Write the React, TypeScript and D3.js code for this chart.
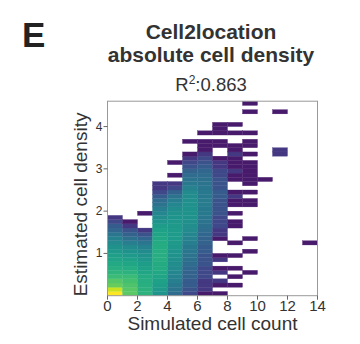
import React from 'react';
import * as d3 from 'd3';

// ---- data ----
const xTicks = [0, 2, 4, 6, 8, 10, 12, 14];
const yTicks = [1, 2, 3, 4];
const xDomain = [0, 14];
const yDomain = [0, 4.6];
const binHeight = 0.1;

// counts per 0.1-wide density bin (from 0 upward) for each simulated-count column
const col0 = [1000, 550, 180, 140, 95, 75, 62, 52, 44, 38, 32, 26, 20, 15, 11, 7, 5, 3, 2];
const col1 = [150, 140, 125, 110, 90, 70, 58, 48, 40, 33, 26, 20, 14, 9, 6, 4, 2, 1];
const col2 = [70, 68, 64, 60, 55, 48, 42, 36, 30, 26, 21, 16, 11, 7, 4, 2, 0, 0, 0, 1];
const col3 = [28, 32, 36, 40, 45, 50, 55, 55, 60, 60, 60, 58, 55, 50, 45, 40, 35, 28, 22, 18, 14, 10, 8, 5, 3, 2, 2];
const col4 = [8, 10, 12, 14, 16, 18, 20, 22, 24, 26, 28, 30, 32, 34, 34, 34, 32, 30, 28, 26, 22, 18, 14, 10, 6, 3, 2, 0, 1, 0, 0, 1];
const col5 = [3, 4, 5, 5, 6, 6, 7, 8, 9, 10, 11, 12, 14, 16, 18, 20, 22, 24, 26, 26, 26, 25, 24, 22, 20, 16, 12, 10, 8, 6, 4, 3, 2, 1, 0, 0, 1];
const col6 = [1, 2, 2, 2, 3, 3, 3, 4, 4, 4, 5, 5, 6, 6, 7, 8, 9, 10, 11, 12, 12, 13, 13, 12, 12, 11, 10, 9, 8, 7, 5, 4, 3, 2, 1, 1, 1, 0, 1];
const col7 = [1, 0, 1, 2, 0, 2, 1, 0, 2, 1, 0, 0, 0, 1, 2, 2, 3, 3, 3, 4, 4, 4, 4, 5, 5, 4, 4, 4, 3, 3, 2, 2, 1, 0, 0, 1, 1, 0, 1, 1, 1];
const col8 = [0, 0, 1, 0, 1, 0, 1, 0, 0, 1, 0, 0, 1, 0, 0, 0, 1, 1, 0, 1, 0, 1, 1, 2, 1, 0, 0, 1, 1, 2, 1, 1, 1, 2, 1, 1, 0, 0, 1, 0, 1];
const col9 = [0, 0, 0, 0, 0, 1, 0, 0, 0, 0, 1, 0, 0, 1, 0, 0, 0, 0, 0, 0, 0, 1, 1, 0, 1, 0, 1, 1, 1, 1, 1, 1, 0, 1, 0, 1, 1, 0, 1, 0, 0, 0, 0, 1, 0, 1];
// sparse columns: [bin, count]
const col10 = [[27, 1]];
const col11 = [[33, 2], [34, 2], [43, 1]];
const col12: number[][] = [];
const col13 = [[12, 1]];

const denseColumns = [col0, col1, col2, col3, col4, col5, col6, col7, col8, col9];
const sparseColumns = [col10, col11, col12, col13];

const W = 360;
const H = 344;
const font = 'Liberation Sans, Arial, Helvetica, sans-serif';

export default function App() {
  const x = d3.scaleLinear().domain(xDomain).range([107.5, 317.5]);
  const y = d3.scaleLinear().domain(yDomain).range([295.7, 101.2]);
  const color = d3
    .scaleSequentialLog((t: number) => d3.interpolateViridis(0.07 + 0.93 * t))
    .domain([1, 1000]);

  const cells: { c: number; b: number; n: number }[] = [];
  denseColumns.forEach((arr, c) => arr.forEach((n, b) => { if (n > 0) cells.push({ c, b, n }); }));
  sparseColumns.forEach((arr, i) => arr.forEach(([b, n]) => cells.push({ c: denseColumns.length + i, b, n })));

  const [x0, x1] = x.range();
  const [yb, yt] = y.range();

  return (
    <svg width={W} height={H} style={{ position: 'absolute', left: 0, top: 0 }} fontFamily={font}>
      <rect width={W} height={H} fill="#fff" />
      <text x={22} y={47} fontSize={35} fontWeight="bold" fill="#222">E</text>
      <text x={211} y={38.5} fontSize={21} fontWeight="bold" fill="#333" textAnchor="middle">Cell2location</text>
      <text x={211} y={61.5} fontSize={21} fontWeight="bold" fill="#333" textAnchor="middle">absolute cell density</text>
      <text x={211} y={90.5} fontSize={18.5} fill="#333" textAnchor="middle">
        R<tspan fontSize={12} dy={-7}>2</tspan><tspan dy={7}>:0.863</tspan>
      </text>

      <g>
        {cells.map((d, i) => {
          const top = y((d.b + 1) * binHeight);
          const bot = y(d.b * binHeight);
          return (
            <rect key={i} x={x(d.c)} y={top} width={x(d.c + 1) - x(d.c)} height={bot - top}
              fill={color(d.n)} stroke={color(d.n)} strokeWidth={0.3} />
          );
        })}
      </g>

      <rect x={x0} y={yt} width={x1 - x0} height={yb - yt} fill="none" stroke="#999" strokeWidth={1} />

      {xTicks.map((t) => (
        <g key={'x' + t}>
          <line x1={x(t)} x2={x(t)} y1={yb} y2={yb + 4} stroke="#666" />
          <text x={x(t)} y={310.5} fontSize={15} fill="#333" textAnchor="middle">{t}</text>
        </g>
      ))}
      {yTicks.map((t) => (
        <g key={'y' + t}>
          <line x1={x0 - 4} x2={x0} y1={y(t)} y2={y(t)} stroke="#666" />
          <text x={x0 - 5} y={y(t) + 4} fontSize={12} fill="#333" textAnchor="end">{t}</text>
        </g>
      ))}

      <text x={(x0 + x1) / 2} y={330} fontSize={19} fill="#333" textAnchor="middle">Simulated cell count</text>
      <text transform={`translate(87,${(yt + yb) / 2 + 6}) rotate(-90)`} fontSize={19} fill="#333" textAnchor="middle">Estimated cell density</text>
    </svg>
  );
}
